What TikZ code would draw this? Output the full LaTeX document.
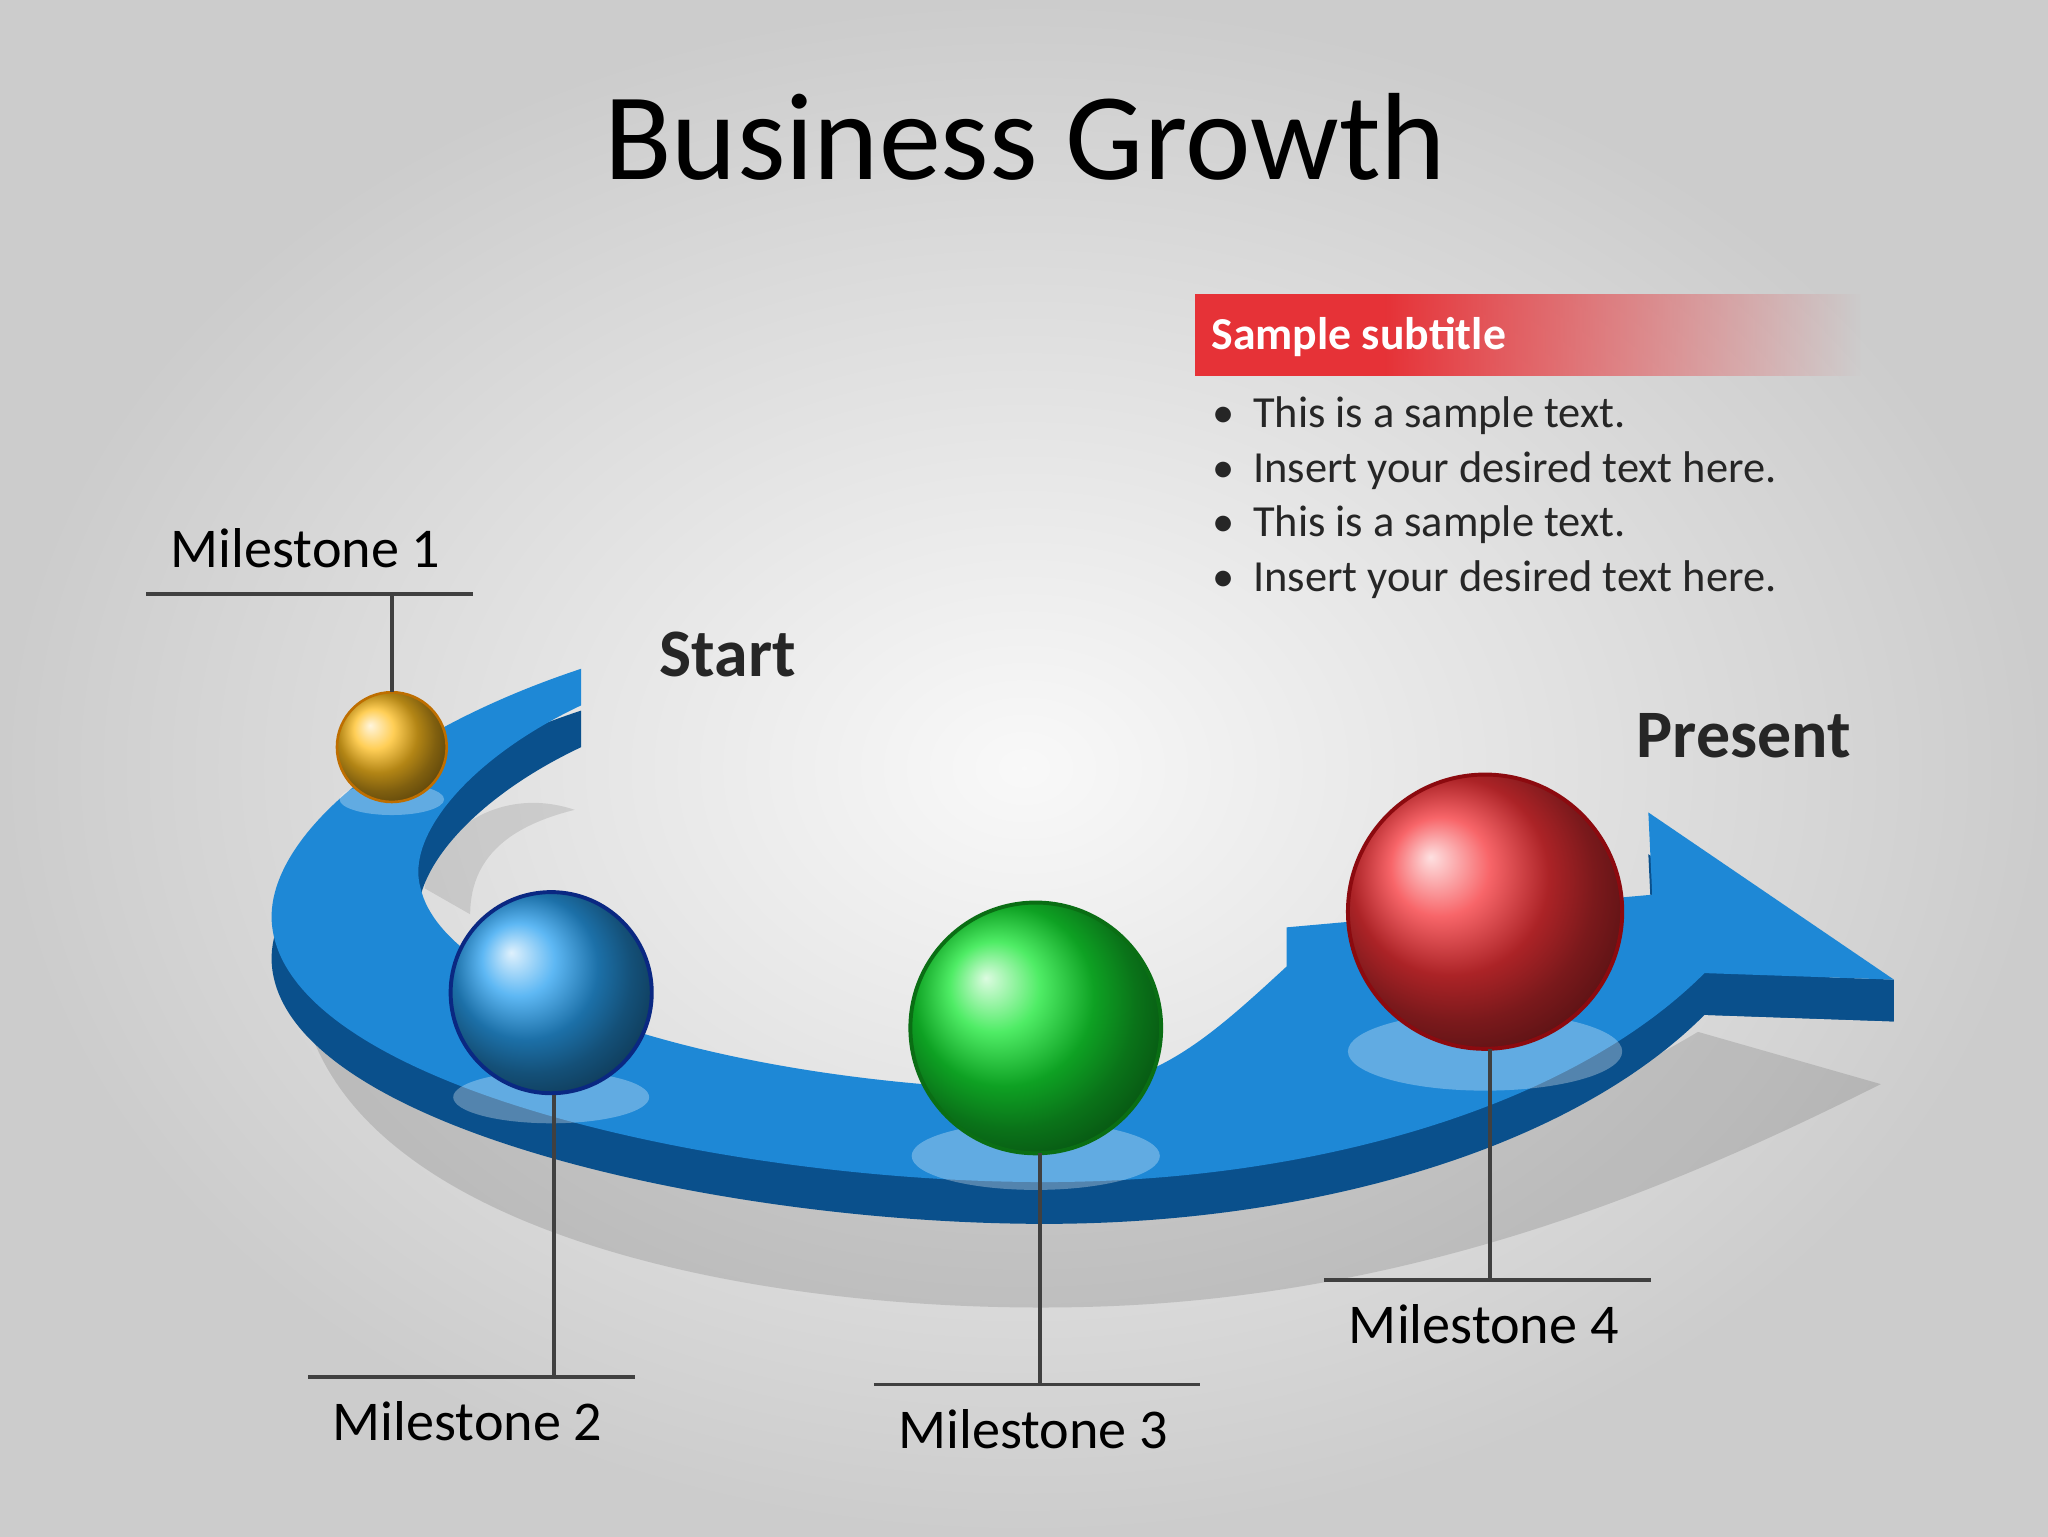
\documentclass[tikz,border=0pt]{standalone}
\usepackage{fontspec}
\setmainfont{Carlito}
\usetikzlibrary{fadings,shadings}
\definecolor{subred}{RGB}{230,50,55}
\definecolor{bandtop}{RGB}{30,136,214}
\definecolor{bandside}{RGB}{10,80,140}
\definecolor{borange}{RGB}{255,190,30}
\definecolor{borgd}{RGB}{190,110,0}
\definecolor{bblue}{RGB}{40,160,240}
\definecolor{bblued}{RGB}{10,40,130}
\definecolor{bgreen}{RGB}{20,230,50}
\definecolor{bgreend}{RGB}{10,110,20}
\definecolor{bred}{RGB}{245,50,55}
\definecolor{bredd}{RGB}{140,10,15}
\tikzfading[name=fadeR, left color=transparent!0, right color=transparent!100]
\tikzset{
  lead/.style={draw=black!75, line width=3pt},
  mtext/.style={font=\fontsize{43}{47}\selectfont, text=black},
  btext/.style={font=\fontsize{34}{40}\selectfont, text=black!85, anchor=west},
  glow/.style={fill=white, opacity=0.3},
}
\begin{document}
\begin{tikzpicture}[x=1pt,y=-1pt]
\useasboundingbox (0,0) rectangle (1568,1176);
\shade[inner color=gray!5, outer color=gray!40] (0,0) rectangle (1568,1176);
% shadow
\fill[black, opacity=0.12] (230,760) .. controls (260,950) and (600,1010) .. (850,1000) .. controls (1100,990) and (1300,900) .. (1440,830) -- (1300,790) .. controls (1150,880) and (1000,900) .. (800,900) .. controls (600,900) and (300,850) .. (230,760) -- cycle;
\fill[black, opacity=0.10] (440,620) .. controls (380,600) and (330,640) .. (325,680) -- (360,700) .. controls (360,650) and (400,630) .. (440,620) -- cycle;
% arrow band: side then top
\def\band{(445,512) .. controls (300,560) and (205,640) .. (208,705) .. controls (215,830) and (550,905) .. (800,905) .. controls (1000,905) and (1200,850) .. (1305,745) -- (1450,750) -- (1262,622) -- (1265,685) -- (985,710) -- (985,740) .. controls (920,800) and (880,835) .. (800,835) .. controls (550,830) and (340,760) .. (322,680) .. controls (310,640) and (360,580) .. (445,540) -- cycle}
\begin{scope}[yshift=-32pt]
\fill[bandside] \band;
\end{scope}
\fill[bandside] (1305,745) -- (1450,750) -- (1450,782) -- (1305,777) -- cycle;
\fill[bandtop] \band;
% glows
\fill[glow] (300,612) ellipse (40 and 12);
\fill[glow] (422,840) ellipse (75 and 20);
\fill[glow] (793,885) ellipse (95 and 26);
\fill[glow] (1137,805) ellipse (105 and 30);
% spheres
\shade[ball color=borange, draw=borgd, line width=2pt] (300,572) circle (42);
\shade[ball color=bblue, draw=bblued, line width=3pt] (422,760) circle (77);
\shade[ball color=bgreen, draw=bgreend, line width=3pt] (793,787) circle (96);
\shade[ball color=bred, draw=bredd, line width=3pt] (1137,698) circle (105);
% leaders
\coordinate (h1a) at (112,455); \coordinate (h1b) at (362,455); \coordinate (v1) at (300,455); \coordinate (v1e) at (300,530);
\draw[lead] (h1a) -- (h1b); \draw[lead] (v1) -- (v1e);
\coordinate (h2a) at (236,1054); \coordinate (h2b) at (486,1054); \coordinate (v2) at (424,838); \coordinate (v2e) at (424,1054);
\draw[lead] (h2a) -- (h2b); \draw[lead] (v2) -- (v2e);
\coordinate (h3a) at (669,1060); \coordinate (h3b) at (919,1060); \coordinate (v3) at (796,883); \coordinate (v3e) at (796,1060);
\draw[lead] (h3a) -- (h3b); \draw[lead] (v3) -- (v3e);
\coordinate (h4a) at (1014,980); \coordinate (h4b) at (1264,980); \coordinate (v4) at (1141,803); \coordinate (v4e) at (1141,980);
\draw[lead] (h4a) -- (h4b); \draw[lead] (v4) -- (v4e);
\node[mtext] (m1) at (234,420) {Milestone 1};
\node[mtext] (m2) at (358,1088) {Milestone 2};
\node[mtext] (m3) at (791,1094) {Milestone 3};
\node[mtext] (m4) at (1136,1014) {Milestone 4};
\node[font=\fontsize{52}{56}\bfseries\selectfont, text=black!85] (start) at (557,501) {Start};
\node[font=\fontsize{52}{56}\bfseries\selectfont, text=black!85] (present) at (1335,563) {Present};
\node[font=\fontsize{95}{104}\selectfont, text=black] (title) at (785,105) {Business Growth};
% subtitle
\fill[subred] (915,225) rectangle (1060,288);
\fill[subred, path fading=fadeR] (1060,225) rectangle (1425,288);
\node[font=\fontsize{35}{40}\bfseries\selectfont, text=white, anchor=west] (sub) at (924,258) {Sample subtitle};
\node[btext] (b1) at (925,318) {\textbullet\hspace{14pt}This is a sample text.};
\node[btext] (b2) at (925,360) {\textbullet\hspace{14pt}Insert your desired text here.};
\node[btext] (b3) at (925,402) {\textbullet\hspace{14pt}This is a sample text.};
\node[btext] (b4) at (925,444) {\textbullet\hspace{14pt}Insert your desired text here.};
\end{tikzpicture}
\end{document}
